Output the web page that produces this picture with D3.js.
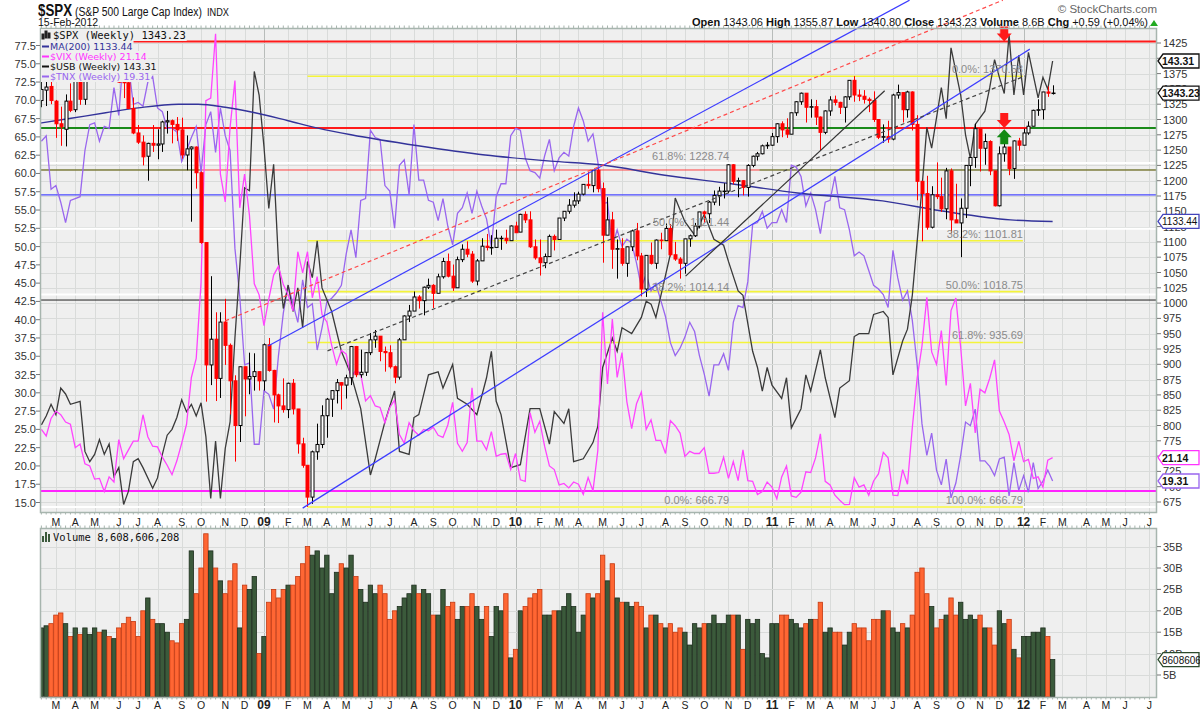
<!DOCTYPE html>
<html>
<head>
<meta charset="utf-8">
<title>$SPX weekly</title>
<script src="https://cdn.jsdelivr.net/npm/d3@7/dist/d3.min.js"></script>
<style>
  body { margin: 0; background: #fff; }
  text { font-family: "Liberation Sans", Arial, sans-serif; }
  .mono { font-family: "DejaVu Sans Mono", monospace; }
  .leg { font-family: "DejaVu Sans", Verdana, sans-serif; }
</style>
</head>
<body>
<svg id="chart" width="1200" height="713"></svg>
<script>
"use strict";

/* ---------- data (weekly, first bar = week ending 15-Feb-2008) ---------- */
const firstWeek = new Date(2008, 1, 15);

/* [open, high, low, close] */
const spxOHLC = [
  // 2008
  [1331,1363,1320,1349],[1348,1368,1322,1353],[1354,1388,1325,1331],[1330,1332,1270,1293],[1293,1321,1257,1288],
  [1284,1341,1256,1330],[1330,1359,1312,1315],[1316,1380,1312,1370],[1370,1380,1324,1333],[1333,1395,1324,1390],
  [1388,1399,1370,1398],[1397,1422,1380,1414],[1415,1421,1383,1388],[1389,1426,1387,1425],[1426,1440,1370,1376],
  [1376,1406,1366,1400],[1400,1404,1360,1361],[1361,1371,1335,1360],[1360,1371,1317,1318],[1318,1336,1276,1278],
  [1278,1291,1260,1263],[1263,1274,1225,1239],[1240,1262,1200,1261],[1261,1291,1247,1258],[1258,1284,1235,1260],
  [1260,1298,1247,1296],[1296,1314,1277,1298],[1298,1300,1261,1292],[1292,1304,1265,1283],[1283,1303,1236,1242],
  [1242,1274,1217,1252],[1252,1256,1133,1255],[1255,1256,1187,1213],[1213,1215,1097,1099],[1099,1099,839,899],
  [899,1044,866,941],[941,985,840,877],[877,985,845,969],[969,1007,899,931],[931,934,818,873],
  [873,882,741,800],[800,896,773,896],[896,896,815,876],[876,919,851,880],[880,918,857,888],[888,888,857,873],
  // 2009
  [873,934,857,932],[932,943,888,890],[890,891,805,850],[850,852,804,832],[832,877,821,826],
  [826,870,812,869],[869,876,818,827],[827,827,754,770],[770,780,731,735],[735,735,667,683],
  [683,759,672,757],[757,803,744,769],[769,833,763,816],[816,845,780,843],[843,857,814,857],
  [857,876,836,870],[870,871,826,866],[866,883,844,878],[878,930,866,929],[929,930,879,883],
  [883,924,878,887],[887,920,881,919],[919,951,915,940],[940,956,927,946],[946,946,905,921],
  [921,929,888,919],[919,931,893,896],[896,898,869,879],[879,943,875,940],[940,980,940,979],
  [979,997,969,987],[987,1019,987,1010],[1010,1013,991,1004],[1004,1027,980,1026],[1026,1040,1023,1029],
  [1029,1031,992,1016],[1016,1048,1016,1043],[1043,1074,1040,1068],[1068,1081,1042,1044],[1044,1063,1020,1025],
  [1025,1076,1025,1071],[1071,1096,1067,1088],[1088,1101,1075,1080],[1080,1085,1033,1036],[1036,1072,1029,1069],
  [1069,1106,1069,1093],[1093,1113,1086,1091],[1091,1111,1079,1091],[1091,1120,1091,1106],[1106,1110,1087,1106],
  [1106,1120,1097,1102],[1102,1127,1102,1126],[1126,1133,1115,1115],
  // 2010
  [1116,1146,1116,1145],[1145,1150,1131,1136],[1136,1150,1090,1092],[1092,1104,1071,1074],[1074,1104,1045,1066],
  [1066,1081,1057,1076],[1076,1112,1076,1109],[1109,1112,1086,1104],[1104,1139,1104,1139],[1139,1150,1134,1150],
  [1150,1170,1146,1160],[1160,1181,1156,1167],[1167,1182,1162,1178],[1178,1194,1176,1194],[1194,1214,1187,1192],
  [1192,1217,1181,1217],[1217,1220,1181,1187],[1187,1197,1066,1111],[1111,1173,1111,1136],[1136,1149,1056,1088],
  [1088,1104,1040,1089],[1089,1106,1061,1065],[1065,1092,1043,1092],[1092,1120,1085,1118],[1118,1131,1070,1077],
  [1077,1082,1011,1023],[1023,1078,1010,1078],[1078,1099,1063,1065],[1065,1104,1056,1103],[1103,1115,1088,1102],
  [1102,1130,1102,1122],[1122,1129,1076,1079],[1079,1100,1069,1072],[1072,1075,1040,1065],[1065,1105,1048,1105],
  [1105,1112,1092,1110],[1110,1131,1108,1126],[1126,1149,1122,1149],[1149,1151,1131,1146],[1146,1167,1131,1165],
  [1165,1184,1160,1176],[1176,1190,1159,1183],[1183,1196,1171,1183],[1183,1227,1180,1226],[1226,1227,1194,1199],
  [1199,1205,1173,1200],[1200,1201,1176,1189],[1189,1227,1174,1225],[1225,1241,1222,1240],[1240,1247,1233,1244],
  [1244,1259,1243,1257],[1257,1263,1252,1258],
  // 2011
  [1258,1278,1257,1272],[1272,1294,1262,1293],[1293,1297,1271,1283],[1283,1302,1270,1276],[1276,1311,1276,1311],
  [1311,1330,1306,1329],[1329,1344,1324,1343],[1343,1343,1295,1320],[1320,1333,1303,1321],[1321,1332,1291,1304],
  [1304,1305,1249,1279],[1279,1315,1276,1314],[1314,1338,1306,1332],[1332,1339,1323,1328],[1328,1329,1309,1320],
  [1320,1338,1295,1337],[1337,1364,1332,1364],[1364,1371,1329,1340],[1340,1349,1330,1338],[1338,1348,1326,1333],
  [1333,1336,1312,1331],[1331,1346,1296,1300],[1300,1300,1268,1271],[1271,1292,1262,1272],[1272,1298,1262,1268],
  [1268,1342,1266,1340],[1340,1357,1334,1344],[1344,1344,1295,1316],[1316,1347,1303,1345],[1345,1346,1282,1292],
  [1292,1307,1168,1199],[1199,1199,1101,1179],[1179,1208,1120,1124],[1124,1191,1122,1177],[1177,1230,1170,1174],
  [1174,1205,1149,1154],[1154,1221,1137,1216],[1216,1220,1114,1136],[1136,1195,1131,1131],[1131,1171,1075,1155],
  [1155,1224,1139,1225],[1225,1234,1191,1238],[1238,1293,1221,1285],[1285,1285,1215,1253],[1253,1277,1226,1264],
  [1264,1266,1209,1216],[1216,1216,1158,1159],[1159,1256,1158,1244],[1244,1267,1231,1255],[1255,1255,1209,1220],
  [1220,1266,1203,1265],[1265,1270,1249,1258],
  // 2012
  [1258,1285,1258,1278],[1278,1297,1275,1289],[1289,1316,1289,1315],[1315,1333,1306,1316],[1316,1345,1300,1345],
  [1345,1354,1337,1343],[1343.06,1355.87,1340.80,1343.23]
];

/* weekly volume, billions of shares */
const spxVolume = [
  16,16.5,17,19,19.5,17,14,16,14.5,16,14.5,16,15,15.5,14,13.5,16,17,18.5,17.5,
  14,20,23,18,17,17,15,13,12.5,17,18,34,24,30,38,34,30,27,24,27,31,16,26,25,28,10,
  14,22,25,23,25,26,26,28,31,35,33,34,30,33,24,29,31,30,33,28,25,22,26,24,26,24,18,20,21,23,
  24,26,24,25,24,19,19,25,21,22,18,21,21,24,21,18,21,14,21,20,24,9,11,
  20,21,23,24,25,19,19,20,20,21,24,21,15,19,24,23,24,33,27,31,23,22,22,21,22,21,16,19,19,17,
  16,17,15,16,15,12,17,16,17,17,19,17,17,19,19,19,11,18,17,18,10,9,
  17,17,19,19,18,17,16,17,18,18,22,15,16,15,15,12,15,17,16,16,13,18,18,20,20,16,15,17,16,19,
  29,30,24,21,16,18,19,23,19,22,18,19,18,19,16,16,12,20,17,18,11,9,
  14,14,15,15,16,14,8.6
];

const vixClose = [
  25.0,24.1,26.5,27.5,27.0,26.0,25.7,22.5,23.0,20.3,20.0,18.2,18.3,16.5,18.5,17.8,23.6,21.0,22.2,23.4,
  23.4,27.0,24.0,22.7,22.6,21.2,20.1,18.8,20.7,23.1,25.7,32.1,34.7,45.1,69.95,70.3,79.1,59.9,56.1,66.3,
  72.7,55.3,59.9,54.3,44.9,43.4,
  39.2,42.8,46.1,47.3,44.8,43.4,41.2,49.3,46.4,49.3,43.0,45.9,40.7,39.7,36.5,33.9,35.8,35.3,32.1,33.1,
  32.6,28.9,29.6,28.2,28.0,25.9,28.0,29.0,24.3,23.1,25.9,24.8,24.2,25.0,24.8,25.3,24.2,23.9,25.6,28.7,
  23.1,22.0,23.2,30.7,23.4,23.4,22.2,24.7,21.3,21.6,21.7,19.5,21.7,
  18.1,17.9,27.3,24.6,26.1,22.7,20.0,19.5,17.4,17.6,17.0,17.8,17.5,16.1,18.4,16.6,22.1,41.0,31.2,40.1,
  32.1,35.5,28.8,25.1,28.5,30.1,25.0,26.3,23.5,23.5,21.7,26.2,25.5,24.5,21.3,22.0,21.7,21.7,22.5,19.0,
  19.0,19.1,21.2,18.3,20.6,18.0,22.2,18.0,17.9,16.1,16.5,17.8,
  17.1,15.5,18.5,20.0,15.9,15.7,16.4,19.2,19.1,21.1,24.4,17.9,17.4,16.0,15.3,14.7,14.75,18.4,17.1,17.4,
  16.0,17.95,18.9,21.85,21.1,16.0,15.95,19.5,17.5,25.25,32.0,36.4,43.05,35.6,33.9,38.5,31.0,41.25,42.96,36.2,
  28.2,31.3,24.5,30.5,30.0,32.0,34.5,27.5,26.0,24.3,20.7,23.4,
  20.6,20.9,18.3,18.5,17.1,20.8,21.14
];

/* 10-year yield x10 */
const tnxClose = [
  37.7,38.0,35.1,35.3,34.4,33.3,34.5,34.6,34.7,37.2,38.6,38.7,37.7,38.5,38.4,40.6,39.1,42.6,41.8,39.7,
  39.8,39.6,40.9,41.2,39.5,39.3,38.4,38.4,38.2,36.6,37.2,37.9,38.5,36.0,38.6,39.3,37.1,39.5,38.0,37.2,
  31.9,29.3,25.6,25.7,21.3,21.3,
  24.2,24.0,23.2,26.1,28.4,29.9,28.9,27.9,30.2,28.7,28.9,26.4,27.6,29.0,29.2,29.5,29.9,31.6,32.9,31.4,
  34.5,34.6,38.3,37.9,37.8,35.3,35.0,33.0,36.4,36.7,34.8,38.6,35.6,35.6,34.5,34.4,33.4,34.6,33.1,32.1,
  33.8,34.1,34.9,33.8,35.0,34.2,33.5,32.0,34.7,35.4,35.4,38.0,38.4,
  38.3,36.8,36.1,36.0,35.7,36.9,37.8,36.1,36.8,37.1,36.9,38.5,39.5,38.8,37.7,38.1,36.6,34.3,34.4,32.0,
  32.9,32.0,32.4,32.2,31.1,29.8,30.5,29.6,30.0,29.1,28.2,26.8,26.1,26.5,27.1,27.9,27.4,26.1,25.1,23.9,
  25.6,25.6,26.2,25.3,27.9,28.8,28.7,30.1,33.2,33.3,33.9,33.0,
  33.3,33.3,34.0,33.3,36.4,36.3,35.8,34.2,34.9,34.0,32.7,34.4,34.5,35.8,34.1,34.0,32.9,31.5,31.7,31.5,
  30.7,29.9,29.7,29.4,28.7,31.8,30.3,29.1,29.6,28.0,25.6,22.4,20.7,21.9,19.9,19.1,20.5,18.4,19.2,20.7,
  22.5,22.3,23.2,20.4,20.4,20.1,19.6,20.5,20.6,18.5,20.3,18.8,
  19.6,18.7,20.3,18.9,19.3,19.9,19.31
];

/* $USB: [week index, value] */
const usbPoints = [
  [0,118.6],[1,119.2],[2,120.0],[3,119.3],[4,121.1],[5,120.7],[6,120.0],[8,120.2],[9,116.8],[10,116.1],
  [11,116.6],[12,117.6],[13,116.6],[14,117.3],[15,115.1],[16,115.7],[17,113.2],[18,114.1],[19,116.1],[20,116.3],
  [21,115.7],[23,114.3],[24,115.0],[25,116.6],[26,117.9],[27,118.3],[28,119.1],[29,120.3],[30,119.5],[31,120.0],
  [32,119.2],[33,120.1],[34,117.8],[35,113.6],[36,117.5],[37,113.6],[38,117.0],[39,118.8],[40,124.5],[41,129.3],
  [42,134.7],[43,134.5],[44,142.6],[45,141.0],[46,137.5],[47,133.3],[48,136.3],[49,129.7],[50,126.5],[51,128.1],
  [52,126.3],[53,127.9],[54,125.2],[55,129.7],[56,128.6],[57,131.1],[58,127.9],[60,126.3],[62,123.6],[64,122.0],
  [66,119.7],[68,115.2],[69,116.3],[71,118.8],[73,120.9],[74,116.8],[76,116.6],[77,119.1],[78,119.3],[80,122.0],
  [82,122.2],[83,121.1],[85,122.7],[86,120.4],[88,120.0],[90,119.3],[92,121.8],[93,123.6],[94,120.2],[95,119.3],
  [97,115.7],[99,115.9],[101,119.7],[103,119.7],[105,117.3],[106,119.5],[108,118.7],[109,119.7],[110,116.1],[112,116.3],
  [114,117.4],[115,118.5],[116,122.5],[118,124.5],[119,123.6],[120,125.2],[122,124.8],[124,125.9],[125,127.0],[126,126.8],
  [127,125.9],[130,130.2],[131,134.0],[133,132.4],[135,131.5],[137,132.9],[139,131.2],[141,130.8],[142,129.7],[144,127.7],
  [145,127.4],[147,123.6],[148,122.5],[149,120.9],[150,122.5],[151,121.3],[153,120.4],[154,121.8],[155,118.4],[157,119.7],
  [158,122.0],[159,120.9],[161,123.7],[162,121.8],[164,119.1],[165,121.1],[167,121.6],[168,124.6],[169,124.8],[171,124.8],
  [172,126.1],[174,126.3],[175,125.9],[176,122.0],[178,124.3],[179,125.1],[180,127.4],[182,134.7],[183,138.8],[184,137.4],
  [186,141.5],[187,139.4],[188,144.2],[190,141.0],[191,138.3],[192,136.7],[193,139.0],[195,139.9],[196,141.5],[197,143.4],
  [198,142.2],[199,141.1],[200,145.1],[201,141.0],[202,143.7],[203,141.0],[204,143.9],[206,140.8],[207,142.2],[208,141.4],
  [209,143.31]
];

/* MA(200) */
const ma200Dates = ["2008-02-13","2008-03-29","2008-05-18","2008-07-04","2008-08-31","2008-09-29","2008-11-07",
  "2008-12-20","2009-02-06","2009-03-21","2009-05-08","2009-08-13","2009-11-18","2010-02-21","2010-05-04",
  "2010-08-05","2010-11-09","2011-02-13","2011-06-16","2011-09-13","2011-12-18","2012-02-17"];
const ma200Values = [1294,1302,1311,1319,1325,1325,1320,1311,1298,1286,1275,1257,1242,1232,1226,
  1209,1195,1180,1167,1150,1136,1133.44];

/* horizontal levels drawn on the chart */
const levelTop = 1427.5, levelRed = 1286, levelThin = 1217.5, levelBlue = 1177, levelBlack = 1005, levelMagenta = 693;
const greenSpansRed = [["2008-02-13","2008-06-24"],["2011-01-17","2011-06-20"],["2012-01-16","2012-07-17"]];
const greenSpansThin = [["2008-02-13","2008-10-01"],["2010-12-20","2012-07-17"]];

/* Fibonacci sets */
const fibAPct = ["0.0%","38.2%","50.0%","61.8%"];
const fibALevels = [666.79, 1014.14, 1121.44, 1228.74];
const fibALabelDate = "2010-11-06";
const fibBPct = ["0.0%","38.2%","50.0%","61.8%","100.0%"];
const fibBLevels = [1370.58, 1101.81, 1018.75, 935.69, 666.79];
const fibBSpan = ["2009-03-06","2012-01-05"];

/* trend lines: [[date, price],[date, price]] */
const upperBlue = [["2009-01-08", 930], ["2011-07-25", 1495]];
const lowerBlue = [["2009-02-27", 665], ["2012-01-15", 1415]];
const redDashed = [["2008-11-07", 971], ["2011-12-07", 1495]];
const blackDashed = [["2009-04-04", 922], ["2012-01-08", 1371]];
const blackSolid = [["2010-09-04", 1044], ["2011-06-19", 1347]];

/* arrows: [date, tip price, direction] */
const arrows = [["2011-12-09", 1427.5, "down"], ["2011-12-09", 1286, "down"], ["2011-12-09", 1284, "up"]];

const priceTicks = d3.range(675, 1426, 25);
const leftTicks = d3.range(15, 77.6, 2.5);
const volTicks = [5, 10, 15, 20, 25, 30, 35];

/* ---------- layout ---------- */
const pL = 40, pR = 1157, pT = 28, pB = 512;
const vT = 528, vB = 697;
const parse = d3.timeParse("%Y-%m-%d");
const weekDates = spxOHLC.map((d, i) => d3.timeDay.offset(firstWeek, 7 * i));

const x = d3.scaleTime().domain([new Date(2008, 1, 13), new Date(2012, 6, 17)]).range([pL, pR]);
const y = d3.scaleLinear().domain([675, 1425]).range([502, 43]);
const yLeft = d3.scaleLinear().domain([15, 77.5]).range([502.5, 45.5]);
const tnxY = d3.scaleLinear().domain([19.31, 39.5]).range([481, 108]);
const usbY = d3.scaleLinear().domain([113.5, 143.31]).range([500, 61]);
const volY = d3.scaleLinear().domain([0, 35]).range([696.4, 546.6]);

const svg = d3.select("#chart");
const defs = svg.append("defs");
defs.append("clipPath").attr("id", "clipMain").append("rect")
    .attr("x", pL).attr("y", pT).attr("width", pR - pL).attr("height", pB - pT);
defs.append("clipPath").attr("id", "clipTrend").append("rect")
    .attr("x", pL).attr("y", 0).attr("width", pR - pL).attr("height", pB);
defs.append("clipPath").attr("id", "clipVol").append("rect")
    .attr("x", pL).attr("y", vT).attr("width", pR - pL).attr("height", vB - vT);

/* panels */
[[pT, pB], [vT, vB]].forEach(function(p) {
  svg.append("rect").attr("x", pL).attr("y", p[0]).attr("width", pR - pL).attr("height", p[1] - p[0])
      .attr("fill", "#efefef");
});

/* month grid */
const months = d3.timeMonth.range(new Date(2008, 2, 1), new Date(2012, 7, 1));
const monthTicks = months.map(m => d3.timeFriday.ceil(m));
const grid = svg.append("g").attr("shape-rendering", "crispEdges");
[[pT, pB], [vT, vB]].forEach(function(p) {
  grid.selectAll(null).data(monthTicks).enter().append("line")
      .attr("x1", d => Math.round(x(d)) + 0.5).attr("x2", d => Math.round(x(d)) + 0.5)
      .attr("y1", p[0]).attr("y2", p[1])
      .attr("stroke", (d, i) => months[i].getMonth() === 0 ? "#b8bcba" : "#d9dbda").attr("stroke-width", 1);
});
grid.selectAll(null).data(priceTicks).enter().append("line")
    .attr("x1", pL).attr("x2", pR)
    .attr("y1", d => Math.round(y(d)) + 0.5).attr("y2", d => Math.round(y(d)) + 0.5)
    .attr("stroke", "#d9dbda");
grid.selectAll(null).data(volTicks).enter().append("line")
    .attr("x1", pL).attr("x2", pR)
    .attr("y1", d => Math.round(volY(d)) + 0.5).attr("y2", d => Math.round(volY(d)) + 0.5)
    .attr("stroke", "#d9dbda");

const main = svg.append("g").attr("clip-path", "url(#clipMain)");

/* fib set A: white full-width lines */
main.selectAll(null).data(fibALevels).enter().append("line")
    .attr("x1", pL).attr("x2", pR).attr("y1", d => y(d)).attr("y2", d => y(d))
    .attr("stroke", "#ffffff").attr("stroke-width", 2);

/* fib set B: yellow lines */
main.selectAll(null).data(fibBLevels).enter().append("line")
    .attr("x1", x(parse(fibBSpan[0]))).attr("x2", x(parse(fibBSpan[1])))
    .attr("y1", d => y(d)).attr("y2", d => y(d))
    .attr("stroke", "#f4f43a").attr("stroke-width", 1.6);

/* horizontal levels */
function hline(level, color, width, from, to) {
  main.append("line")
      .attr("x1", from ? x(parse(from)) : pL).attr("x2", to ? x(parse(to)) : pR)
      .attr("y1", y(level)).attr("y2", y(level))
      .attr("stroke", color).attr("stroke-width", width);
}
hline(levelTop, "#ff1a1a", 2);
hline(levelRed, "#ff1a1a", 2);
greenSpansRed.forEach(s => hline(levelRed, "#1a8a1a", 2, s[0], s[1]));
hline(levelThin, "#ff4040", 1);
greenSpansThin.forEach(s => hline(levelThin, "#3a9a3a", 1, s[0], s[1]));
hline(levelBlue, "#4a4aff", 1.3);
hline(levelBlack, "#222", 1);
hline(levelMagenta, "#ff22ff", 2);

/* overlays */
const line = d3.line();
main.append("path")
    .attr("d", line(tnxClose.map((v, i) => [x(weekDates[i]), tnxY(v)])))
    .attr("fill", "none").attr("stroke", "#9966ee").attr("stroke-width", 1.3);
main.append("path")
    .attr("d", line(usbPoints.map(p => [x(weekDates[p[0]]), usbY(p[1])])))
    .attr("fill", "none").attr("stroke", "#3a3a3a").attr("stroke-width", 1.3);
main.append("path")
    .attr("d", line(vixClose.map((v, i) => [x(weekDates[i]), yLeft(v)])))
    .attr("fill", "none").attr("stroke", "#ff44ff").attr("stroke-width", 1.3);
main.append("path")
    .attr("d", d3.line().curve(d3.curveMonotoneX)(ma200Dates.map((d, i) => [x(parse(d)), y(ma200Values[i])])))
    .attr("fill", "none").attr("stroke", "#33339a").attr("stroke-width", 1.4);

/* candles */
const isDown = d => d[3] < d[0];
const cx = i => Math.round(x(weekDates[i])) + 0.5;
const candle = main.append("g").selectAll("g").data(spxOHLC).enter().append("g");
candle.append("line")
    .attr("x1", (d, i) => cx(i)).attr("x2", (d, i) => cx(i))
    .attr("y1", d => y(d[1])).attr("y2", d => y(d[2]))
    .attr("stroke", d => isDown(d) ? "#ff0000" : "#000").attr("stroke-width", 1);
candle.append("rect")
    .attr("x", (d, i) => cx(i) - 1.5).attr("width", 3)
    .attr("y", d => y(Math.max(d[0], d[3])))
    .attr("height", d => Math.max(0.5, Math.abs(y(d[0]) - y(d[3]))))
    .attr("fill", d => isDown(d) ? "#ff0000" : "#ffffff")
    .attr("stroke", d => isDown(d) ? "#ff0000" : "#000").attr("stroke-width", 1);

/* trend lines */
const trend = svg.append("g").attr("clip-path", "url(#clipTrend)");
function tline(pts, color, dash) {
  trend.append("line")
      .attr("x1", x(parse(pts[0][0]))).attr("y1", y(pts[0][1]))
      .attr("x2", x(parse(pts[1][0]))).attr("y2", y(pts[1][1]))
      .attr("stroke", color).attr("stroke-width", 1.2)
      .attr("stroke-dasharray", dash || null);
}
tline(upperBlue, "#3c3cff");
tline(lowerBlue, "#3c3cff");
tline(redDashed, "#ff4a4a", "4,3");
tline(blackDashed, "#444", "4,3");
tline(blackSolid, "#333");

/* arrows */
arrows.forEach(function(a) {
  const ax = x(parse(a[0])), ay = y(a[1]);
  const s = a[2] === "down" ? -1 : 1;
  const pts = [[ax, ay], [ax - 7.5, ay + s * 8], [ax - 4, ay + s * 8], [ax - 4, ay + s * 15],
               [ax + 4, ay + s * 15], [ax + 4, ay + s * 8], [ax + 7.5, ay + s * 8]];
  svg.append("polygon").attr("points", pts.map(p => p.join(",")).join(" "))
      .attr("fill", a[2] === "down" ? "#ff1a1a" : "#138a13");
});

/* fib labels */
const fibText = svg.append("g").attr("font-size", 11).attr("fill", "#8a8a8a").attr("text-anchor", "end");
fibALevels.forEach(function(v, i) {
  fibText.append("text").attr("x", x(parse(fibALabelDate))).attr("y", y(v) - 3)
      .text(fibAPct[i] + ": " + v.toFixed(2));
});
fibBLevels.forEach(function(v, i) {
  fibText.append("text").attr("x", x(parse(fibBSpan[1]))).attr("y", y(v) - 3)
      .text(fibBPct[i] + ": " + v.toFixed(2));
});

/* volume bars */
svg.append("g").attr("clip-path", "url(#clipVol)")
  .selectAll("rect").data(spxVolume).enter().append("rect")
    .attr("x", (d, i) => x(weekDates[i]) - 2.2).attr("width", 4.4)
    .attr("y", d => volY(d)).attr("height", d => volY(0) - volY(d))
    .attr("fill", (d, i) => isDown(spxOHLC[i]) ? "#ff6633" : "#3b5a3b")
    .attr("stroke", (d, i) => isDown(spxOHLC[i]) ? "#c43a12" : "#1d2d1d").attr("stroke-width", 0.8);

/* borders with weekly ticks */
[[pT, pB], [vT, vB]].forEach(function(p) {
  svg.append("rect").attr("x", pL + 0.5).attr("y", p[0] + 0.5).attr("width", pR - pL - 1).attr("height", p[1] - p[0])
      .attr("fill", "none").attr("stroke", "#a7b5ae").attr("stroke-width", 1.5);
  [p[0], p[1]].forEach(function(yy, k) {
    svg.append("g").selectAll("line").data(d3.range(0, 230)).enter().append("line")
        .attr("x1", i => x(d3.timeDay.offset(firstWeek, 7 * i))).attr("x2", i => x(d3.timeDay.offset(firstWeek, 7 * i)))
        .attr("y1", yy).attr("y2", k === 0 ? yy - 2.5 : yy + 2.5)
        .attr("stroke", "#a7b5ae").attr("stroke-width", 1);
  });
});

/* legend */
function legendRow(yb, text, color, cls, size, dash) {
  const g = svg.append("g");
  const t = g.append("text").attr("x", dash ? 50 : 53).attr("y", yb).attr("class", cls)
      .attr("font-size", size).attr("fill", color).text(text);
  const bb = t.node().getBBox();
  g.insert("rect", "text").attr("x", 41).attr("y", bb.y).attr("width", bb.x + bb.width - 41 + 1)
      .attr("height", bb.height).attr("fill", "#efefef");
  if (dash) g.append("line").attr("x1", 42).attr("x2", 49).attr("y1", yb - 3.5).attr("y2", yb - 3.5)
      .attr("stroke", color).attr("stroke-width", 2);
}
legendRow(39, "$SPX (Weekly) 1343.23", "#111", "mono", 10.5, false);
legendRow(50, "MA(200) 1133.44", "#33339a", "leg", 9.5, true);
legendRow(60, "$VIX (Weekly) 21.14", "#ff33ff", "leg", 9.5, true);
legendRow(70, "$USB (Weekly) 143.31", "#111", "leg", 9.5, true);
legendRow(80, "$TNX (Weekly) 19.31", "#9966ee", "leg", 9.5, true);
function candleIcon(ix, iy) {
  const g = svg.append("g").attr("fill", "#222").attr("stroke", "#222");
  g.append("rect").attr("x", ix).attr("y", iy + 3).attr("width", 2).attr("height", 5);
  g.append("rect").attr("x", ix + 3).attr("y", iy).attr("width", 2).attr("height", 7);
  g.append("rect").attr("x", ix + 6).attr("y", iy + 2).attr("width", 2).attr("height", 5);
}
candleIcon(42, 31);
svg.append("text").attr("x", 53).attr("y", 541).attr("class", "mono").attr("font-size", 10.5)
    .attr("fill", "#111").text("Volume 8,608,606,208");
const vi = svg.append("g").attr("fill", "#3b5a3b");
vi.append("rect").attr("x", 42).attr("y", 536).attr("width", 2).attr("height", 6);
vi.append("rect").attr("x", 45).attr("y", 532).attr("width", 2).attr("height", 10);
vi.append("rect").attr("x", 48).attr("y", 534).attr("width", 2).attr("height", 8);

/* axes */
const ax = svg.append("g").attr("font-size", 11).attr("fill", "#333");
priceTicks.forEach(function(v) {
  ax.append("line").attr("x1", pR).attr("x2", pR + 4).attr("y1", y(v)).attr("y2", y(v)).attr("stroke", "#777");
  ax.append("text").attr("x", pR + 6).attr("y", y(v) + 4).text(v);
});
leftTicks.forEach(function(v) {
  ax.append("line").attr("x1", pL - 4).attr("x2", pL).attr("y1", yLeft(v)).attr("y2", yLeft(v)).attr("stroke", "#777");
  ax.append("text").attr("x", pL - 4).attr("y", yLeft(v) + 4).attr("text-anchor", "end").text(v.toFixed(1));
});
volTicks.forEach(function(v) {
  ax.append("line").attr("x1", pR).attr("x2", pR + 4).attr("y1", volY(v)).attr("y2", volY(v)).attr("stroke", "#777");
  ax.append("text").attr("x", pR + 6).attr("y", volY(v) + 4).text(v + "B");
});
[526, 709].forEach(function(yb) {
  months.forEach(function(m, i) {
    const jan = m.getMonth() === 0;
    ax.append("text").attr("x", x(monthTicks[i])).attr("y", yb).attr("text-anchor", "middle")
        .attr("font-size", jan ? 12 : 10.5).attr("font-weight", jan ? "bold" : "normal").attr("fill", "#222")
        .text(jan ? String(m.getFullYear()).slice(2) : "JFMAMJJASOND"[m.getMonth()]);
  });
});

/* value tags on the right axis */
function tag(yc, text, color, bold) {
  const g = svg.append("g");
  g.append("path").attr("d", "M" + (pR + 1) + "," + yc + " L" + (pR + 6) + "," + (yc - 7) + " H1199 V" + (yc + 7) +
      " H" + (pR + 6) + " Z").attr("fill", "#fff").attr("stroke", color).attr("stroke-width", 1.3);
  g.append("text").attr("x", pR + 5).attr("y", yc + 4).attr("font-size", bold ? 10.5 : 10)
      .attr("font-weight", bold ? "bold" : "normal").attr("fill", "#111").text(text);
}
tag(usbY(143.31), "143.31", "#111", true);
tag(y(1343.23), "1343.23", "#111", true);
tag(y(1133.44), "1133.44", "#4444bb", false);
tag(yLeft(21.14), "21.14", "#ff33ff", true);
tag(tnxY(19.31), "19.31", "#9966ee", true);
tag(volY(8.6086), "8608606", "#2c4a2c", false);

/* header */
const hd = svg.append("g").attr("fill", "#111");
hd.append("text").attr("x", 38).attr("y", 16).attr("font-size", 16.5).attr("font-weight", "bold")
    .attr("textLength", 34).attr("lengthAdjust", "spacingAndGlyphs").text("$SPX");
hd.append("text").attr("x", 75).attr("y", 16).attr("font-size", 12)
    .attr("textLength", 127).attr("lengthAdjust", "spacingAndGlyphs").text("(S&P 500 Large Cap Index)");
hd.append("text").attr("x", 207).attr("y", 16).attr("font-size", 11)
    .attr("textLength", 22).attr("lengthAdjust", "spacingAndGlyphs").text("INDX");
hd.append("text").attr("x", 38).attr("y", 26).attr("font-size", 10.5).text("15-Feb-2012");
hd.append("text").attr("x", 1157).attr("y", 13).attr("font-size", 11.5).attr("text-anchor", "end")
    .attr("fill", "#666").text("\u00a9 StockCharts.com");
const info = hd.append("text").attr("x", 1148).attr("y", 26).attr("font-size", 11).attr("text-anchor", "end");
[["Open", "1343.06"], ["High", "1355.87"], ["Low", "1340.80"], ["Close", "1343.23"], ["Volume", "8.6B"],
 ["Chg", "+0.59 (+0.04%)"]].forEach(function(p, i) {
  info.append("tspan").attr("font-weight", "bold").text((i ? "  " : "") + p[0] + " ");
  info.append("tspan").text(p[1]);
});
svg.append("polygon").attr("points", "1150,26 1154,20 1158,26").attr("fill", "#22aa22");
</script>
</body>
</html>
